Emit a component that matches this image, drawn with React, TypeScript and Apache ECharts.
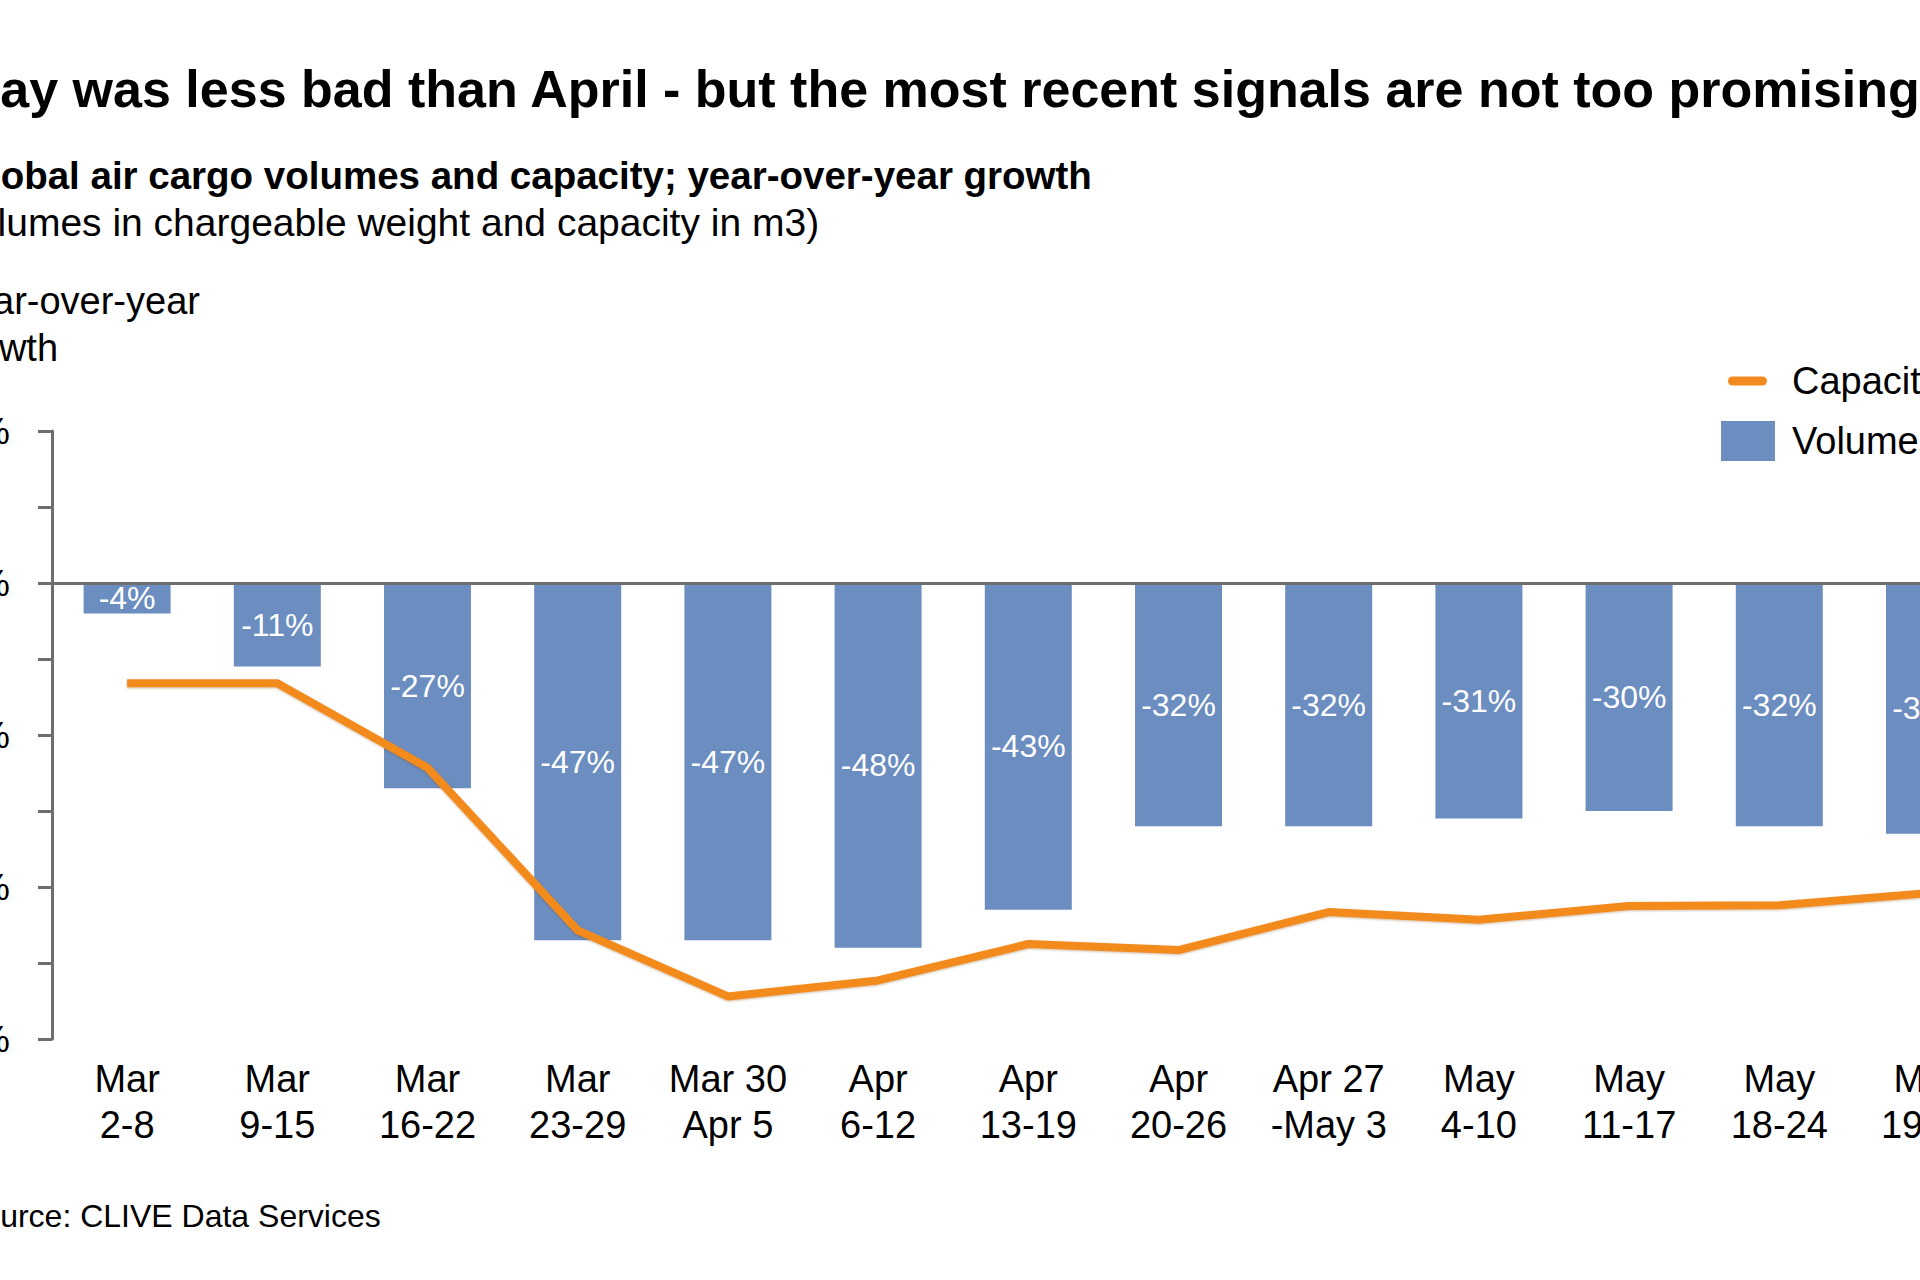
import * as echarts from 'echarts';
import { useEffect, useRef } from 'react';

// 数据：周度同比增长（%）
const weeks = [
  'Mar\n2-8', 'Mar\n9-15', 'Mar\n16-22', 'Mar\n23-29', 'Mar 30\nApr 5', 'Apr\n6-12', 'Apr\n13-19',
  'Apr\n20-26', 'Apr 27\n-May 3', 'May\n4-10', 'May\n11-17', 'May\n18-24', 'May\n19-25',
];
const volumes = [-4, -11, -27, -47, -47, -48, -43, -32, -32, -31, -30, -32, -33];
const capacity = [-13.2, -13.2, -24.3, -45.7, -54.4, -52.3, -47.5, -48.3, -43.3, -44.3, -42.5, -42.4, -40.8];
const yTicks = [-60, -40, -20, 0, 20];

const FONT = '"Liberation Sans", Arial, sans-serif';
const BAR_COLOR = '#6b8dbf';
const LINE_COLOR = '#f28a1f';
const AXIS_COLOR = '#6e6e6e';

export default function App() {
  const chartRef = useRef<HTMLDivElement>(null);

  useEffect(() => {
    if (!chartRef.current) return;
    const chart = echarts.init(chartRef.current, undefined, { renderer: 'svg' });

    chart.setOption({
      animation: false,
      backgroundColor: '#ffffff',
      textStyle: { fontFamily: FONT },
      // 图表区域超出画布右侧，与原图裁切一致
      grid: { left: 52, top: 431, width: 13 * 150.2, height: 608, containLabel: false, outerBoundsMode: 'none' },
      xAxis: {
        type: 'category',
        data: weeks,
        axisLine: { show: false },
        axisTick: { show: false },
        axisLabel: {
          interval: 0,
          margin: 17,
          fontSize: 38,
          lineHeight: 46,
          color: '#000',
          fontFamily: FONT,
        },
      },
      yAxis: {
        type: 'value',
        min: -60,
        max: 20,
        interval: 10,
        axisLine: { show: true, lineStyle: { color: AXIS_COLOR, width: 3 } },
        axisTick: { show: true, inside: false, length: 14, lineStyle: { color: AXIS_COLOR, width: 3 } },
        splitLine: { show: false },
        axisLabel: {
          margin: 42,
          fontSize: 37,
          color: '#000',
          fontFamily: FONT,
          formatter: (v: number) => (yTicks.includes(v) ? `${v}%` : ''),
        },
      },
      legend: [
        {
          data: [{ name: 'Capacity', icon: 'path://M4.5,0 H34.5 A4.5,4.5 0 0 1 34.5,9 H4.5 A4.5,4.5 0 0 1 4.5,0 Z' }],
          left: 1728,
          top: 359,
          padding: 0,
          itemWidth: 39,
          itemHeight: 9,
          textStyle: { fontSize: 38, lineHeight: 44, color: '#000', fontFamily: FONT, padding: [0, 0, 0, 20] },
        },
        {
          data: [{ name: 'Volumes', icon: 'rect' }],
          left: 1721,
          top: 419,
          padding: 0,
          itemWidth: 54,
          itemHeight: 40,
          textStyle: { fontSize: 38, lineHeight: 44, color: '#000', fontFamily: FONT, padding: [0, 0, 0, 12] },
        },
      ],
      series: [
        {
          name: 'Volumes',
          type: 'bar',
          data: volumes,
          barWidth: 87,
          itemStyle: { color: BAR_COLOR },
          label: {
            show: true,
            position: 'inside',
            color: '#fff',
            fontSize: 32,
            fontFamily: FONT,
            formatter: (p: { value: number }) => `${p.value}%`,
          },
          markLine: {
            silent: true,
            symbol: 'none',
            label: { show: false },
            lineStyle: { color: AXIS_COLOR, width: 3, type: 'solid' },
            data: [{ yAxis: 0 }],
          },
          z: 2,
        },
        {
          name: 'Capacity',
          type: 'line',
          data: capacity,
          showSymbol: false,
          lineStyle: {
            color: LINE_COLOR,
            width: 8,
            shadowColor: 'rgba(120,60,0,0.35)',
            shadowBlur: 2,
            shadowOffsetY: 1,
          },
          itemStyle: { color: LINE_COLOR },
          z: 3,
        },
      ],
      graphic: [
        {
          type: 'text',
          x: -43,
          y: 89,
          style: {
            text: 'May was less bad than April - but the most recent signals are not too promising',
            font: `bold 52px ${FONT}`,
            fill: '#000',
            verticalAlign: 'middle',
          },
        },
        {
          type: 'text',
          x: -40,
          y: 175,
          style: {
            text: 'Global air cargo volumes and capacity; year-over-year growth',
            font: `bold 38.5px ${FONT}`,
            fill: '#000',
            verticalAlign: 'middle',
          },
        },
        {
          type: 'text',
          x: -61,
          y: 222,
          style: {
            text: '(Volumes in chargeable weight and capacity in m3)',
            font: `39px ${FONT}`,
            fill: '#000',
            verticalAlign: 'middle',
          },
        },
        {
          type: 'text',
          x: -50,
          y: 301,
          style: { text: 'Year-over-year', font: `38px ${FONT}`, fill: '#000', verticalAlign: 'middle' },
        },
        {
          type: 'text',
          x: -56,
          y: 348,
          style: { text: 'growth', font: `38px ${FONT}`, fill: '#000', verticalAlign: 'middle' },
        },
        {
          type: 'text',
          x: -39,
          y: 1216,
          style: { text: 'Source: CLIVE Data Services', font: `32px ${FONT}`, fill: '#000', verticalAlign: 'middle' },
        },
      ],
    });

    return () => {
      chart.dispose();
    };
  }, []);

  return (
    <div
      ref={chartRef}
      style={{ position: 'absolute', left: 0, top: 0, width: 1920, height: 1280, overflow: 'hidden' }}
    />
  );
}
